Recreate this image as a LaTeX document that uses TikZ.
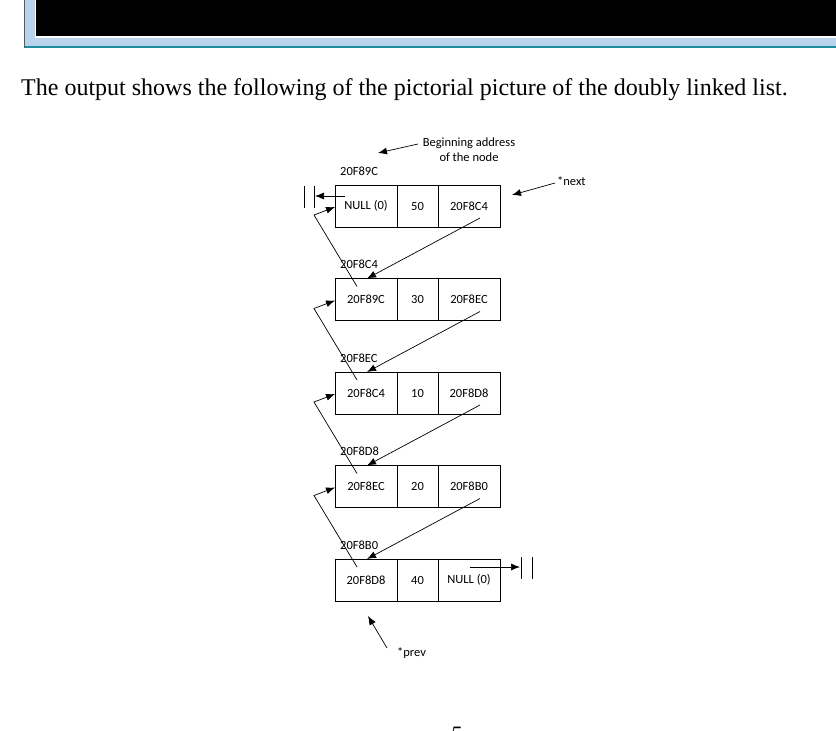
\documentclass[tikz,border=0pt]{standalone}
\usepackage{fontspec}
\usetikzlibrary{arrows.meta}
\setmainfont{Carlito}
\newfontfamily\serifT{Liberation Serif}
\begin{document}
\begin{tikzpicture}[x=1pt,y=-1pt,
  lbl/.style={font=\fontsize{12.5}{15}\selectfont, inner sep=0pt},
  cellbox/.style={draw, line width=0.8pt},
  arr/.style={-{Latex[length=9pt,width=7pt]}, line width=0.7pt},
  ln/.style={line width=0.7pt}]
\useasboundingbox (0,0) rectangle (836,731);
\begin{scope}
\clip (0,0) rectangle (836,731);
\fill[color={rgb,255:red,185;green,211;blue,236}] (24,0) rectangle (836,46);
\fill[color={rgb,255:red,30;green,140;blue,160}] (24,46) rectangle (836,48);
\draw[color=gray!70!black, line width=1pt] (24.5,0) -- (24.5,48);
\fill[white] (35,0) rectangle (836,38);
\fill[black] (36,0) rectangle (836,36);
\node[font=\serifT\fontsize{24}{26}\selectfont, anchor=west, inner sep=0pt] (title) at (21,90) {The output shows the following of the pictorial picture of the doubly linked list.};
\node[font=\serifT\itshape\fontsize{22}{24}\selectfont, inner sep=0pt] (pg) at (456,734) {5};
\end{scope}
\foreach \i/\a/\v/\b/\addr in {0/NULL (0)/50/20F8C4/20F89C, 1/20F89C/30/20F8EC/20F8C4, 2/20F8C4/10/20F8D8/20F8EC, 3/20F8EC/20/20F8B0/20F8D8, 4/20F8D8/40/NULL (0)/20F8B0}{
  \pgfmathsetmacro{\t}{185+93.5*\i}
  \draw[cellbox] (335,\t) rectangle (500,\t+42);
  \draw[cellbox] (397,\t) -- (397,\t+42);
  \draw[cellbox] (438,\t) -- (438,\t+42);
  \node[lbl] (p\i) at (366,\t+21) {\a};
  \node[lbl] (d\i) at (417.5,\t+21) {\v};
  \node[lbl] (n\i) at (469,\t+21) {\b};
  \node[lbl, anchor=west] (ad\i) at (340,\t-14) {\addr};
  \coordinate (top\i) at (367,\t);
  \coordinate (nx\i) at (480,\t+33);
  \coordinate (pv\i) at (357,\t+8);
  \coordinate (bend\i) at (314,\t+30);
  \coordinate (lt\i) at (335,\t+22);
}
\foreach \i/\j in {0/1,1/2,2/3,3/4}{
  \draw[arr] (nx\i) -- (top\j);
  \draw[arr] (pv\j) -- (bend\i) -- (lt\i);
}
\coordinate (ls) at (345,196);
\coordinate (le) at (315,196);
\draw[arr] (ls) -- (le);
\draw[ln] (304,186) -- (304,208) (314,186) -- (314,208);
\coordinate (rs) at (470,567);
\coordinate (re) at (520,567);
\draw[arr] (rs) -- (re);
\draw[ln] (521,557) -- (521,579) (532,557) -- (532,579);
\node[lbl, align=center] (beg) at (469,150) {Beginning address\\of the node};
\coordinate (bege) at (378,153);
\draw[arr] (418,144) -- (bege);
\node[lbl, anchor=west] (nxt) at (557,181) {*next};
\coordinate (nxte) at (512,195);
\draw[arr] (555,183) -- (nxte);
\node[lbl, anchor=west] (prv) at (397,653) {*prev};
\coordinate (prve) at (368,616);
\draw[arr] (387,648) -- (prve);
\end{tikzpicture}
\end{document}
